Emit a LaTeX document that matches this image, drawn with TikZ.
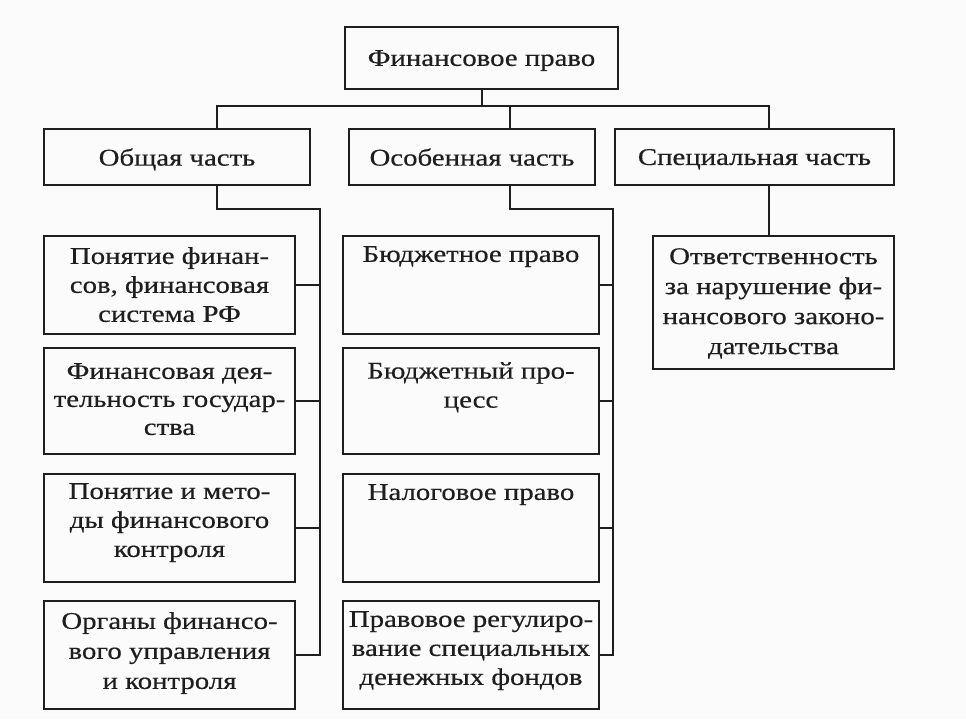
\documentclass[tikz,border=0pt]{standalone}
\usepackage{fontspec}
\setmainfont[FakeStretch=1.2,FakeBold=0.5]{Liberation Serif}
\definecolor{ink}{HTML}{1E1E1E}
\definecolor{paper}{HTML}{FBFBFB}
\begin{document}
\begin{tikzpicture}[x=1pt,y=-1pt,
  box/.style={draw=ink, line width=2pt, inner sep=0pt, text=ink, text depth=0pt,
    font=\fontsize{24}{29}\selectfont, anchor=north west},
  txt/.style={align=center, text=ink, inner sep=0pt, anchor=north,
    font=\fontsize{24}{29}\selectfont},
  conn/.style={draw=ink, line width=2pt}]
\useasboundingbox (0,0) rectangle (966,718);
\fill[paper] (0,0) rectangle (966,718);

% top
\node[box, minimum width=273pt, minimum height=62pt] (top) at (344,26) {Финансовое право};
% level 2
\node[box, minimum width=266pt, minimum height=56pt] (gen) at (43,128) {Общая часть};
\node[box, minimum width=246pt, minimum height=56pt] (spc) at (348,128) {Особенная часть};
\node[box, minimum width=279pt, minimum height=56pt] (sep) at (614,128) {Специальная часть};

% left column
\node[box, minimum width=251pt, minimum height=98pt] (l1) at (43,235) {};
\node[box, minimum width=251pt, minimum height=106pt] (l2) at (43,347) {};
\node[box, minimum width=251pt, minimum height=108pt] (l3) at (43,473) {};
\node[box, minimum width=251pt, minimum height=108pt] (l4) at (43,600) {};
\node[txt] (l1t) at ([yshift=-12pt]l1.north) {Понятие финан-\\сов, финансовая\\система РФ};
\node[txt, font=\fontsize{24}{28}\selectfont] (l2t) at ([yshift=-16pt]l2.north) {Финансовая дея-\\тельность государ-\\ства};
\node[txt] (l3t) at ([yshift=-10pt]l3.north) {Понятие и мето-\\ды финансового\\контроля};
\node[txt, font=\fontsize{24}{30}\selectfont] (l4t) at ([yshift=-12pt]l4.north) {Органы финансо-\\вого управления\\и контроля};

% middle column
\node[box, minimum width=256pt, minimum height=98pt] (m1) at (342,235) {};
\node[box, minimum width=256pt, minimum height=106pt] (m2) at (342,347) {};
\node[box, minimum width=256pt, minimum height=108pt] (m3) at (342,473) {};
\node[box, minimum width=256pt, minimum height=108pt] (m4) at (342,600) {};
\node[txt] (m1t) at ([yshift=-11pt]m1.north) {Бюджетное право};
\node[txt] (m2t) at ([yshift=-15pt]m2.north) {Бюджетный про-\\цесс};
\node[txt] (m3t) at ([yshift=-11pt]m3.north) {Налоговое право};
\node[txt] (m4t) at ([yshift=-11pt]m4.north) {Правовое регулиро-\\вание специальных\\денежных фондов};

% right column
\node[box, minimum width=241pt, minimum height=133pt] (r1) at (652,235) {};
\node[txt, font=\fontsize{24}{30}\selectfont] (r1t) at ([yshift=-13pt]r1.north) {Ответственность\\за нарушение фи-\\нансового законо-\\дательства};

% connectors
\coordinate (busL) at (217,106);
\coordinate (busM) at (510,106);
\coordinate (busR) at (769,106);
\coordinate (elbL) at (217,209);
\coordinate (spnL) at (320,209);
\coordinate (elbM) at (510,209);
\coordinate (spnM) at (613,209);

\draw[conn] (top.south) -- (top.south |- busL);
\draw[conn] (busL |- gen.north) -- (busL) -- (busR) -- (busR |- sep.north);
\draw[conn] (busM) -- (busM |- spc.north);

\draw[conn] (elbL |- gen.south) -- (elbL) -- (spnL) -- (spnL |- l4.east) -- (l4.east);
\draw[conn] (l1.east) -- (l1.east -| spnL);
\draw[conn] (l2.east) -- (l2.east -| spnL);
\draw[conn] (l3.east) -- (l3.east -| spnL);

\draw[conn] (elbM |- spc.south) -- (elbM) -- (spnM) -- (spnM |- m4.east) -- (m4.east);
\draw[conn] (m1.east) -- (m1.east -| spnM);
\draw[conn] (m2.east) -- (m2.east -| spnM);
\draw[conn] (m3.east) -- (m3.east -| spnM);

\draw[conn] (busR |- sep.south) -- (busR |- r1.north);
\end{tikzpicture}
\end{document}
